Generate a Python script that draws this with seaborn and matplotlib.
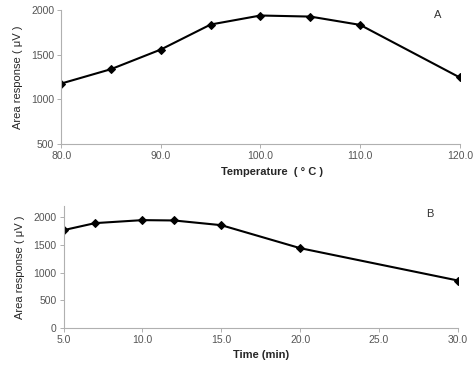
import seaborn as sns
import matplotlib.pyplot as plt
import pandas as pd

temperature = [80, 85, 90, 95, 100, 105, 110, 120]
temp_response = [1175, 1336, 1556, 1836, 1937, 1925, 1832, 1243]

time_min = [5, 7, 10, 12, 15, 20, 30]
time_response = [1765, 1892, 1946, 1940, 1855, 1440, 856]

sns.set_style('white')
plt.rcParams['font.family'] = ['Liberation Sans', 'DejaVu Sans']

fig = plt.figure(figsize=(4.74, 3.66), dpi=100)
ax1 = fig.add_axes([0.129, 0.607, 0.841, 0.366])
ax2 = fig.add_axes([0.134, 0.104, 0.832, 0.333])

grey = '#b0b0b0'
label_font = ['Liberation Sans Narrow', 'Liberation Sans', 'DejaVu Sans']


def style_axis(ax):
    sns.despine(ax=ax)
    for side in ['left', 'bottom']:
        ax.spines[side].set_color(grey)
        ax.spines[side].set_linewidth(0.8)
    ax.tick_params(axis='both', which='major', direction='out', length=3,
                   width=0.7, color=grey, labelsize=7.5, labelcolor='#555555',
                   left=True, bottom=True, pad=2)


df_a = pd.DataFrame({'Temperature': temperature, 'Response': temp_response})
sns.lineplot(data=df_a, x='Temperature', y='Response', ax=ax1, color='black',
             linewidth=1.5, marker='D', markersize=4.5, markeredgecolor='black')
ax1.set_xlim(80, 120)
ax1.set_ylim(500, 2000)
ax1.set_xticks([80, 90, 100, 110, 120])
ax1.set_xticklabels(['80.0', '90.0', '100.0', '110.0', '120.0'])
ax1.set_yticks([500, 1000, 1500, 2000])
style_axis(ax1)
ax1.set_xlabel('Temperature  ( ° C )', fontsize=8, fontweight='bold', labelpad=4)
ax1.xaxis.set_label_coords(0.53, -0.17)
ax1.set_ylabel('Area response ( μV )', fontsize=8, family=label_font, labelpad=6)
ax1.text(0.945, 1.0, 'A', transform=ax1.transAxes, fontsize=8, color='#333333',
         ha='center', va='top')

df_b = pd.DataFrame({'Time': time_min, 'Response': time_response})
sns.lineplot(data=df_b, x='Time', y='Response', ax=ax2, color='black',
             linewidth=1.5, marker='D', markersize=4.5, markeredgecolor='black')
ax2.set_xlim(5, 30)
ax2.set_ylim(0, 2200)
ax2.set_xticks([5, 10, 15, 20, 25, 30])
ax2.set_xticklabels(['5.0', '10.0', '15.0', '20.0', '25.0', '30.0'])
ax2.set_yticks([0, 500, 1000, 1500, 2000])
style_axis(ax2)
ax2.set_xlabel('Time (min)', fontsize=8, fontweight='bold', labelpad=4)
ax2.set_ylabel('Area response ( μV )', fontsize=8, family=label_font, labelpad=6)
ax2.text(0.93, 0.975, 'B', transform=ax2.transAxes, fontsize=8, color='#333333',
         ha='center', va='top')

fig.savefig('out.png', dpi=100)
